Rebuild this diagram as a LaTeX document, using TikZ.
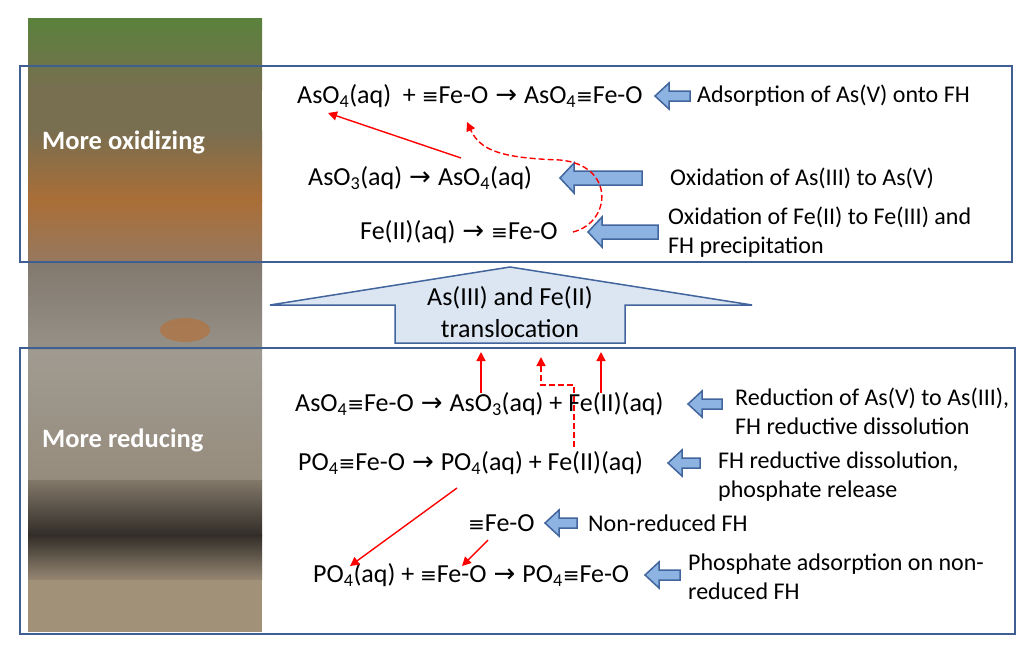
\documentclass[tikz,border=0pt]{standalone}
\usepackage{fontspec}
\setmainfont{Carlito}
\newfontfamily\dv{DejaVu Sans}
\usetikzlibrary{arrows.meta}
\definecolor{frame}{HTML}{3F5F93}
\definecolor{barfill}{HTML}{8DB3E2}
\definecolor{barline}{HTML}{41659C}
\definecolor{bigfill}{HTML}{DCE6F2}
\newcommand{\eqv}{{\dv\fontsize{20}{20}\selectfont ≡}}
\newcommand{\ar}{\hspace{7pt}{\dv →}\hspace{7pt}}
\newcommand{\sub}[1]{\textsubscript{#1}}
\tikzset{
  eqn/.style={anchor=west,inner sep=0pt,font=\fontsize{26}{28}\selectfont},
  lbl/.style={anchor=west,inner sep=0pt,align=left,font=\fontsize{24}{29}\selectfont},
  soiltxt/.style={anchor=west,inner sep=0pt,text=white,font=\fontsize{26.5}{28}\selectfont\bfseries},
  boxframe/.style={draw=frame,line width=2pt},
  redarr/.style={draw=red,line width=1.4pt,-{Triangle[length=9pt,width=9pt]}},
  reddash/.style={redarr,dashed,dash pattern=on 6pt off 3pt}
}
\newcommand{\blarr}[4]{% x1 x2 y halfheight
  \filldraw[fill=barfill,draw=barline,line width=1.5pt]
   (#1,#3) -- (#1+14,#3-#4-4) -- (#1+14,#3-#4+4) -- (#2,#3-#4+4) -- (#2,#3+#4-4) -- (#1+14,#3+#4-4) -- (#1+14,#3+#4+4) -- cycle;}
\begin{document}
\begin{tikzpicture}[x=1pt,y=-1pt]
\useasboundingbox (0,0) rectangle (1035,654);
\fill[white] (0,0) rectangle (1035,654);
% soil photo
\fill[fill={rgb,255:red,120;green,110;blue,80}] (28,18) rectangle (262,130);
\shade[top color={rgb,255:red,120;green,110;blue,80},bottom color={rgb,255:red,170;green,110;blue,55}] (28,130) rectangle (262,200);
\shade[top color={rgb,255:red,170;green,110;blue,55},bottom color={rgb,255:red,150;green,120;blue,95}] (28,200) rectangle (262,262);
\shade[top color={rgb,255:red,130;green,120;blue,110},bottom color={rgb,255:red,150;green,145;blue,135}] (28,262) rectangle (262,350);
\shade[top color={rgb,255:red,160;green,155;blue,145},bottom color={rgb,255:red,150;green,140;blue,125}] (28,350) rectangle (262,480);
\shade[top color={rgb,255:red,130;green,120;blue,105},bottom color={rgb,255:red,50;green,45;blue,40}] (28,480) rectangle (262,535);
\shade[top color={rgb,255:red,50;green,45;blue,40},bottom color={rgb,255:red,150;green,135;blue,115}] (28,535) rectangle (262,580);
\fill[fill={rgb,255:red,160;green,145;blue,120}] (28,580) rectangle (262,632);
\shade[top color={rgb,255:red,90;green,130;blue,60},bottom color={rgb,255:red,120;green,110;blue,80}] (28,18) rectangle (262,90);
\fill[fill={rgb,255:red,185;green,110;blue,50},opacity=0.6] (185,330) ellipse (25pt and 12pt);
% boxes
\draw[boxframe] (20,66) rectangle (1012,262);
\draw[boxframe] (20,348) rectangle (1015,634);
\node[soiltxt] (ox) at (42,142) {More oxidizing};
\node[soiltxt] (red) at (42,440) {More reducing};
% big arrow
\filldraw[fill=bigfill,draw=barline,line width=1.5pt] (510,267) -- (752,305) -- (625,305) -- (625,343) -- (395,343) -- (395,305) -- (270,305) -- cycle;
\node[align=center,inner sep=0pt,font=\fontsize{26}{32}\selectfont] (trans) at (510,312) {As(III) and Fe(II)\\translocation};
% top equations
\node[eqn] (t1) at (297,96) {AsO\sub{4}(aq)\ \ + \eqv Fe-O\ar AsO\sub{4}\eqv Fe-O};
\blarr{655}{690}{96}{9}
\node[lbl] at (697,96) {Adsorption of As(V) onto FH};
\node[eqn] (t2) at (308,178) {AsO\sub{3}(aq)\ar AsO\sub{4}(aq)};
\blarr{560}{642}{178}{11}
\node[lbl] at (670,178) {Oxidation of As(III) to As(V)};
\node[eqn] (t3) at (360,232) {Fe(II)(aq)\ar\eqv Fe-O};
\blarr{588}{658}{232}{11}
\node[lbl] at (668,232) {Oxidation of Fe(II) to Fe(III) and\\FH precipitation};
\coordinate (a1s) at (461,158); \coordinate (a1e) at (328,113);
\draw[redarr] (a1s) -- (a1e);
\coordinate (d1s) at (573,232); \coordinate (d1e) at (467,122);
\draw[reddash] (d1s) .. controls (612,222) and (615,165) .. (560,160) .. controls (500,158) and (480,150) .. (d1e);
% bottom equations
\node[eqn] (b1) at (295,404) {AsO\sub{4}\eqv Fe-O\ar AsO\sub{3}(aq) + Fe(II)(aq)};
\blarr{688}{722}{404}{9}
\node[lbl] at (735,411) {Reduction of As(V) to As(III),\\FH reductive dissolution};
\node[eqn] (b2) at (298,463) {PO\sub{4}\eqv Fe-O\ar PO\sub{4}(aq) + Fe(II)(aq)};
\blarr{668}{700}{463}{9}
\node[lbl] at (718,477) {FH reductive dissolution,\\phosphate release};
\node[eqn] (b3) at (468,523) {\eqv Fe-O};
\blarr{545}{577}{523}{9}
\node[lbl] at (588,523) {Non-reduced FH};
\node[eqn] (b4) at (313,575) {PO\sub{4}(aq) + \eqv Fe-O\ar PO\sub{4}\eqv Fe-O};
\blarr{645}{680}{575}{9}
\node[lbl] at (688,577) {Phosphate adsorption on non-\\reduced FH};
\coordinate (u1) at (481,393); \coordinate (u1e) at (481,352);
\coordinate (u2) at (601,393); \coordinate (u2e) at (601,352);
\draw[redarr] (u1) -- (u1e);
\draw[redarr] (u2) -- (u2e);
\coordinate (ud) at (574,447); \coordinate (ude) at (541,357);
\draw[reddash] (ud) -- (574,385) -- (541,385) -- (ude);
\coordinate (p1) at (457,488); \coordinate (p1e) at (350,566);
\draw[redarr] (p1) -- (p1e);
\coordinate (p2) at (488,540); \coordinate (p2e) at (462,566);
\draw[redarr] (p2) -- (p2e);
\end{tikzpicture}
\end{document}
